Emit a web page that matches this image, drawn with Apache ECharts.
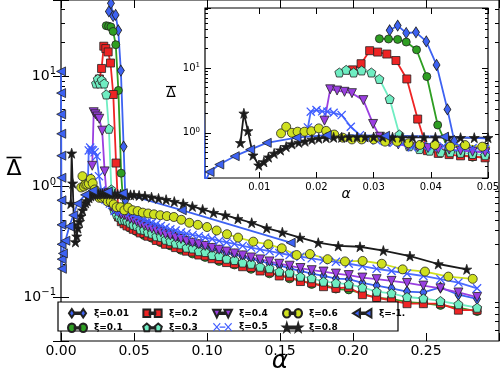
<!DOCTYPE html>
<html><head><meta charset="utf-8">
<script src="https://cdn.jsdelivr.net/npm/echarts@6/dist/echarts.min.js"></script>
<style>html,body{margin:0;padding:0;background:#fff}#c{width:500px;height:371px}</style>
</head><body><div id="c"></div>
<script>
// ---------------- data ----------------
const seriesNames = ['ξ=0.01','ξ=0.1','ξ=0.2','ξ=0.3','ξ=0.4','ξ=0.5','ξ=0.6','ξ=0.8','ξ=-1.'];

const alphaTail = [0.0452,0.0473,0.0495,0.0519,0.0543,0.0569,0.0595,0.0623,0.0653,0.0684,0.0716,0.0749,0.0785,0.0822,0.0860,0.0901,0.0944,0.0988,0.1035,0.1083,0.1134,0.1188,0.1244,0.1302,0.1364,0.1428,0.1495,0.1566,0.1640,0.1717,0.1798,0.1883,0.1971,0.2064,0.2162,0.2264,0.2370,0.2482,0.2599,0.2722,0.2850];

const xi001Head = [[0.0328,38.4],[0.0342,45.4],[0.0357,34.9],[0.0374,35.7],[0.0392,25.9],[0.0410,11.2],[0.0429,2.3],[0.0441,0.75]];
const xi001Tail = [0.56,0.52,0.51,0.49,0.47,0.45,0.44,0.42,0.40,0.39,0.37,0.36,0.345,0.33,0.32,0.305,0.295,0.285,0.272,0.262,0.25,0.242,0.232,0.22,0.212,0.20,0.193,0.182,0.172,0.163,0.155,0.147,0.145,0.134,0.127,0.12,0.112,0.11,0.122,0.105,0.096];

const xi01Head = [[0.0310,28.5],[0.0326,28.2],[0.0342,27.8],[0.0357,25.3],[0.0375,19.2],[0.0393,7.4],[0.0412,1.32],[0.0431,0.55]];
const xi01Tail = [0.46,0.42,0.42,0.39,0.39,0.36,0.36,0.34,0.335,0.31,0.31,0.29,0.29,0.265,0.265,0.245,0.245,0.228,0.228,0.21,0.21,0.195,0.192,0.178,0.176,0.162,0.16,0.146,0.143,0.13,0.13,0.118,0.116,0.108,0.098,0.096,0.09,0.088,0.084,0.08,0.074];

const xi02Head = [[0.0263,9.4],[0.0278,11.7],[0.0293,18.6],[0.0307,17.7],[0.0323,16.5],[0.0339,13.1],[0.0358,6.8],[0.0377,1.63],[0.0394,0.53],[0.0413,0.48],[0.0432,0.46]];
const xi02Tail = [0.44,0.43,0.41,0.40,0.38,0.375,0.355,0.35,0.325,0.32,0.30,0.30,0.28,0.275,0.26,0.255,0.24,0.235,0.222,0.218,0.205,0.20,0.188,0.185,0.172,0.168,0.155,0.152,0.138,0.134,0.124,0.12,0.122,0.105,0.099,0.093,0.087,0.087,0.087,0.076,0.076];

const xi03Head = [[0.0240,8.55],[0.0252,9.4],[0.0265,8.55],[0.0279,9.2],[0.0296,8.55],[0.0310,6.8],[0.0328,3.33],[0.0345,0.94],[0.0362,0.62],[0.0380,0.56],[0.0398,0.53],[0.0417,0.50],[0.0434,0.50]];
const xi03Tail = [0.49,0.47,0.45,0.44,0.41,0.405,0.385,0.375,0.355,0.35,0.33,0.32,0.305,0.30,0.28,0.275,0.26,0.255,0.24,0.235,0.222,0.216,0.205,0.20,0.188,0.182,0.17,0.166,0.153,0.148,0.138,0.134,0.13,0.122,0.112,0.108,0.10,0.097,0.092,0.086,0.08];

const xi04Head = [[0.0214,1.54],[0.0224,4.7],[0.0236,4.5],[0.0249,4.3],[0.0262,4.1],[0.0282,3.2],[0.0299,1.37],[0.0311,0.87],[0.0327,0.72],[0.0343,0.66],[0.0360,0.62],[0.0377,0.60],[0.0395,0.58],[0.0413,0.56],[0.0432,0.55]];
const xi04Tail = [0.53,0.51,0.50,0.48,0.46,0.445,0.43,0.415,0.40,0.385,0.37,0.36,0.345,0.335,0.32,0.31,0.30,0.29,0.278,0.268,0.258,0.248,0.238,0.228,0.219,0.21,0.20,0.192,0.183,0.175,0.17,0.163,0.158,0.15,0.145,0.14,0.134,0.127,0.12,0.11,0.10];

const xi05Head = [[0.0185,1.21],[0.0190,2.12],[0.0200,2.25],[0.0210,2.15],[0.0219,2.12],[0.0230,2.04],[0.0244,1.88],[0.0260,1.24],[0.0276,0.92],[0.0290,0.80],[0.0305,0.76],[0.0320,0.74],[0.0335,0.70],[0.0350,0.68],[0.0367,0.60],[0.0385,0.63],[0.0403,0.60],[0.0422,0.62],[0.0437,0.60]];
const xi05Tail = [0.60,0.58,0.56,0.54,0.52,0.50,0.485,0.47,0.455,0.44,0.425,0.41,0.40,0.385,0.375,0.365,0.355,0.345,0.335,0.322,0.312,0.302,0.29,0.28,0.27,0.26,0.25,0.24,0.232,0.224,0.215,0.208,0.20,0.19,0.18,0.172,0.163,0.155,0.145,0.135,0.12];

const xi06 = [[0.0138,0.98],[0.0147,1.24],[0.0157,1.0],[0.0167,1.04],[0.0179,1.04],[0.0191,1.06],[0.0204,1.17],[0.0217,1.07],[0.0231,0.94],[0.0246,0.84],[0.0262,0.79],[0.0279,0.79],[0.0300,0.79],[0.0320,0.73],[0.0341,0.73],[0.0361,0.69],[0.0381,0.65],[0.0407,0.65],[0.0434,0.61],[0.0460,0.645],[0.0490,0.61],[0.0525,0.60],[0.0560,0.58],[0.0597,0.57],[0.0637,0.56],[0.0680,0.55],[0.0725,0.54],[0.0773,0.53],[0.0824,0.50],[0.0879,0.47],[0.0937,0.45],[0.1000,0.43],[0.1066,0.40],[0.1137,0.37],[0.1213,0.345],[0.1317,0.317],[0.1420,0.30],[0.1512,0.276],[0.1614,0.24],[0.1705,0.245],[0.1826,0.22],[0.1945,0.21],[0.2066,0.212],[0.2197,0.20],[0.2340,0.178],[0.2493,0.17],[0.2653,0.153],[0.2820,0.146]];

const xi08 = [[0.0067,0.70],[0.0073,2.0],[0.0080,1.07],[0.0089,0.45],[0.0099,0.315],[0.0108,0.355],[0.0116,0.42],[0.0126,0.48],[0.0137,0.54],[0.0147,0.61],[0.0157,0.67],[0.0169,0.71],[0.0180,0.74],[0.0192,0.79],[0.0204,0.82],[0.0217,0.84],[0.0230,0.85],[0.0244,0.85],[0.0257,0.86],[0.0271,0.86],[0.0285,0.86],[0.0300,0.86],[0.0316,0.86],[0.0333,0.855],[0.0350,0.85],[0.0368,0.85],[0.0388,0.85],[0.0408,0.85],[0.0430,0.845],[0.0452,0.84],[0.0476,0.84],[0.0500,0.84],[0.0535,0.83],[0.0575,0.82],[0.0620,0.80],[0.0668,0.78],[0.0720,0.76],[0.0776,0.73],[0.0837,0.70],[0.0900,0.66],[0.0970,0.62],[0.1045,0.58],[0.1125,0.55],[0.1212,0.51],[0.1306,0.47],[0.1409,0.42],[0.1516,0.385],[0.1637,0.345],[0.1762,0.31],[0.1899,0.29],[0.2048,0.285],[0.2208,0.263],[0.2390,0.235],[0.2584,0.199],[0.2779,0.178]];

const xiM1 = [[0.00003,11],[0.00006,7],[0.0001,4.5],[0.00015,3],[0.0002,1.9],[0.00025,1.2],[0.0003,0.75],[0.00035,0.45],[0.0004,0.3],[0.00045,0.22],[0.0006,0.18],[0.0013,0.248],[0.0030,0.323],[0.0057,0.435],[0.0084,0.55],[0.0113,0.70],[0.0165,0.84],[0.0218,0.92],[0.0320,0.90],[0.0423,0.87],[0.0827,0.61],[0.1573,0.31]];

const mainXTicks = [0, 0.05, 0.10, 0.15, 0.20, 0.25];
const insetXTicks = [0.01, 0.02, 0.03, 0.04, 0.05];
const mainMinorY = [0.05,0.06,0.07,0.08,0.09,0.2,0.3,0.4,0.5,0.6,0.7,0.8,0.9,2,3,4,5,6,7,8,9,20,30,40];
const insetMinorY = [0.3,0.4,0.5,0.6,0.7,0.8,0.9,2,3,4,5,6,7,8,9,20,30,40,50,60,70,80];

// ---------------- build ----------------
const withTail = (head, tail) => head.concat(alphaTail.map((a, i) => [a, tail[i]]));
const dataSets = [
  withTail(xi001Head, xi001Tail), withTail(xi01Head, xi01Tail), withTail(xi02Head, xi02Tail),
  withTail(xi03Head, xi03Tail), withTail(xi04Head, xi04Tail), withTail(xi05Head, xi05Tail),
  xi06, xi08, xiM1
];

// marker outlines in unit coordinates (y down)
const circlePts = Array.from({length: 16}, (_, k) => [Math.cos(k * Math.PI / 8), Math.sin(k * Math.PI / 8)]);
const shapes = {
  diamond: [[0,-1],[0.75,0],[0,1],[-0.75,0]],
  circle: circlePts,
  rect: [[-0.9,-0.9],[0.9,-0.9],[0.9,0.9],[-0.9,0.9]],
  pent: [[0,-1],[0.951,-0.309],[0.588,0.809],[-0.588,0.809],[-0.951,-0.309]],
  tdown: [[-1,-0.85],[1,-0.85],[0,1]],
  x: [[-1,-0.8],[-0.8,-1],[0,-0.2],[0.8,-1],[1,-0.8],[0.2,0],[1,0.8],[0.8,1],[0,0.2],[-0.8,1],[-1,0.8],[-0.2,0]],
  star: [[0,-1],[0.2245,-0.309],[0.951,-0.309],[0.363,0.118],[0.588,0.809],[0,0.382],[-0.588,0.809],[-0.363,0.118],[-0.951,-0.309],[-0.2245,-0.309]],
  tleft: [[-1,0],[0.85,-1],[0.85,1]]
};
const polyPath = (pts, cx, cy, rx, ry) => 'M' + pts.map(p => (cx + p[0] * rx).toFixed(2) + ',' + (cy + p[1] * ry).toFixed(2)).join(' L') + ' Z';
const symbolPath = key => 'path://' + polyPath(shapes[key], 0, 0, 1, 1);
// legend icon: marker - line - marker, in a 20 x 9 box
const legendIcon = key => 'path://' + polyPath(shapes[key], 4, 4.5, 4, 4.5) + ' ' + polyPath(shapes[key], 16, 4.5, 4, 4.5) +
  ' M0,0 L0.01,0 Z M20,9 L19.99,9 Z M7,3.8 L13,3.8 L13,5.2 L7,5.2 Z';

const styles = [
  {sym:'diamond', icon:'diamond', size:[7,11], color:'#3d62f2', line:'#3d62f2'},
  {sym:'circle', icon:'circle', size:8, color:'#2e9e22', line:'#2e9e22'},
  {sym:'rect', icon:'rect', size:8, color:'#ee2424', line:'#ee2424'},
  {sym:symbolPath('pent'), icon:'pent', size:9, color:'#6fedc2', line:'#6fedc2'},
  {sym:symbolPath('tdown'), icon:'tdown', size:9, color:'#9a3fe0', line:'#9a3fe0'},
  {sym:symbolPath('x'), icon:'x', size:9, color:'#3f5cff', line:'#4d6dff', noBorder:true},
  {sym:'circle', icon:'circle', size:9, color:'#cfe01e', line:'#cfe01e'},
  {sym:symbolPath('star'), icon:'star', size:10, color:'#1a1a1a', line:'#1a1a1a'},
  {sym:symbolPath('tleft'), icon:'tleft', size:9, color:'#3d62f2', line:'#3d62f2'}
];

const series = [];
seriesNames.forEach((nm, i) => {
  const st = styles[i];
  [[0,0],[2,4]].forEach(([xi, yi]) => {
    series.push({
      name: nm, type: 'line', xAxisIndex: xi, yAxisIndex: yi,
      data: dataSets[i], clip: true, animation: false,
      symbol: st.sym, symbolSize: st.size,
      lineStyle: {color: st.line, width: 1.8},
      itemStyle: {color: st.color, borderColor: st.noBorder ? st.color : '#222', borderWidth: st.noBorder ? 0 : 0.8},
      emphasis: {disabled: true}
    });
  });
});

const FONT = 'DejaVu Sans';
const powLabel = v => {
  const l = Math.log10(v), e = Math.round(l);
  if (Math.abs(l - e) > 1e-6) return '';
  return '10{s|' + (e < 0 ? '−' : '') + Math.abs(e) + '}';
};
const tickStyle = {color: '#000', width: 1};
const logAxis = (grid, pos, min, max, opts) => Object.assign({
  gridIndex: grid, type: 'log', logBase: 10, min: min, max: max, position: pos,
  axisLine: {show: false}, splitLine: {show: false}, axisLabel: {show: false},
  axisTick: {show: true, inside: true, length: 8, lineStyle: tickStyle}
}, opts || {});

const option = {
  backgroundColor: '#fff',
  animation: false,
  grid: [
    {left: 61, right: 1, top: 0, bottom: 30, show: true, borderColor: '#000', borderWidth: 1.2, backgroundColor: 'rgba(0,0,0,0)', containLabel: false, outerBoundsMode: 'none'},
    {left: 205, top: 8, width: 283, height: 170, show: true, borderColor: '#000', borderWidth: 1.2, backgroundColor: '#fff', containLabel: false, outerBoundsMode: 'none'}
  ],
  xAxis: [
    {gridIndex: 0, type: 'value', min: 0, max: 0.3, interval: 0.05, position: 'bottom',
     axisLine: {show: false}, splitLine: {show: false},
     axisTick: {inside: true, length: 8, lineStyle: tickStyle},
     axisLabel: {customValues: mainXTicks, formatter: v => v.toFixed(2), fontSize: 14, color: '#000', fontFamily: FONT, margin: 3}},
    {gridIndex: 0, type: 'value', min: 0, max: 0.3, interval: 0.05, position: 'top',
     axisLine: {show: false}, splitLine: {show: false},
     axisTick: {inside: true, length: 8, lineStyle: tickStyle}, axisLabel: {show: false}},
    {gridIndex: 1, type: 'value', min: 0.0005, max: 0.05, position: 'bottom',
     axisLine: {show: false}, splitLine: {show: false},
     axisTick: {inside: true, length: 6, customValues: insetXTicks, lineStyle: tickStyle},
     axisLabel: {customValues: insetXTicks, formatter: v => v.toFixed(2), fontSize: 10, color: '#000', fontFamily: FONT, margin: 4}},
    {gridIndex: 1, type: 'value', min: 0.0005, max: 0.05, position: 'top',
     axisLine: {show: false}, splitLine: {show: false},
     axisTick: {inside: true, length: 6, customValues: insetXTicks, lineStyle: tickStyle}, axisLabel: {show: false}}
  ],
  yAxis: [
    logAxis(0, 'left', 0.04, 48.7, {
      axisLabel: {show: true, formatter: powLabel, fontSize: 14, color: '#000', fontFamily: FONT, margin: 5,
        rich: {s: {fontSize: 10, fontFamily: FONT, color: '#000', padding: [0, 0, 9, 0]}}}}),
    logAxis(0, 'right', 0.04, 48.7),
    logAxis(0, 'left', 0.04, 48.7, {axisTick: {show: true, inside: true, length: 4, customValues: mainMinorY, lineStyle: tickStyle}}),
    logAxis(0, 'right', 0.04, 48.7, {axisTick: {show: true, inside: true, length: 4, customValues: mainMinorY, lineStyle: tickStyle}}),
    logAxis(1, 'left', 0.2, 85, {
      axisTick: {show: true, inside: true, length: 6, lineStyle: tickStyle},
      axisLabel: {show: true, formatter: powLabel, fontSize: 10, color: '#000', fontFamily: FONT, margin: 5,
        rich: {s: {fontSize: 7, fontFamily: FONT, color: '#000', padding: [0, 0, 6, 0]}}}}),
    logAxis(1, 'right', 0.2, 85, {axisTick: {show: true, inside: true, length: 6, lineStyle: tickStyle}}),
    logAxis(1, 'left', 0.2, 85, {axisTick: {show: true, inside: true, length: 3, customValues: insetMinorY, lineStyle: tickStyle}}),
    logAxis(1, 'right', 0.2, 85, {axisTick: {show: true, inside: true, length: 3, customValues: insetMinorY, lineStyle: tickStyle}})
  ],
  legend: [
    [62, [0, 1]], [137, [2, 3]], [207, [4, 5]], [277, [6, 7]], [347, [8]]
  ].map(([x, idx]) => ({
    orient: 'vertical', left: x, top: 303, itemGap: 4, itemWidth: 19, itemHeight: 9,
    data: idx.map(k => ({name: seriesNames[k], icon: legendIcon(styles[k].icon)})), z: 20, selectedMode: false,
    textStyle: {fontSize: 9, fontWeight: 'bold', fontFamily: FONT, color: '#000', padding: [0, 0, 0, 2]}
  })),
  graphic: [
    {type: 'rect', z: 15, shape: {x: 58, y: 302, width: 340, height: 29},
     style: {fill: '#fff', stroke: '#000', lineWidth: 1.2}},
    {type: 'text', z: 30, x: 14, y: 169, style: {text: 'Δ', fontSize: 22, fontFamily: FONT, fill: '#000', align: 'center', verticalAlign: 'middle'}},
    {type: 'line', z: 30, shape: {x1: 6.5, y1: 157.5, x2: 21.5, y2: 157.5}, style: {stroke: '#000', lineWidth: 1.6}},
    {type: 'text', z: 30, x: 171, y: 93, style: {text: 'Δ', fontSize: 14, fontFamily: FONT, fill: '#000', align: 'center', verticalAlign: 'middle'}},
    {type: 'line', z: 30, shape: {x1: 166, y1: 86.5, x2: 176, y2: 86.5}, style: {stroke: '#000', lineWidth: 1.2}},
    {type: 'text', z: 30, x: 280, y: 361, style: {text: 'α', fontSize: 25, fontStyle: 'italic', fontFamily: FONT, fill: '#000', align: 'center', verticalAlign: 'middle'}},
    {type: 'text', z: 30, x: 346, y: 194, style: {text: 'α', fontSize: 14, fontStyle: 'italic', fontFamily: FONT, fill: '#000', align: 'center', verticalAlign: 'middle'}}
  ],
  series: series
};

const chart = echarts.init(document.getElementById('c'), null, {renderer: 'canvas'});
chart.setOption(option);
</script>
</body></html>
